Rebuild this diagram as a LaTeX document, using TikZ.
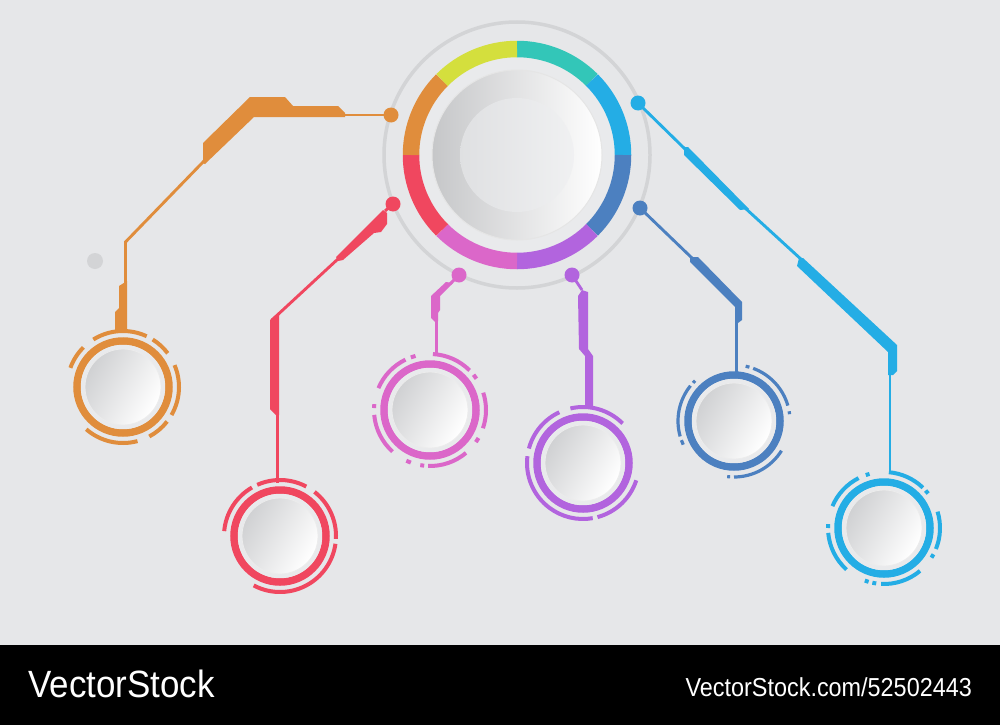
\documentclass[tikz,border=0pt]{standalone}
\usepackage{fontspec}
\setmainfont{Liberation Sans}
\usetikzlibrary{calc}
\definecolor{bg}{HTML}{E6E7E9}
\definecolor{greyring}{HTML}{D3D4D6}
\definecolor{gapc}{HTML}{E9EAEC}
\definecolor{diskL}{HTML}{D0D1D3}
\definecolor{cO}{HTML}{E08D3C}
\definecolor{cR}{HTML}{F0475F}
\definecolor{cP}{HTML}{DB67C9}
\definecolor{cU}{HTML}{B264DE}
\definecolor{cB}{HTML}{4C80C0}
\definecolor{cC}{HTML}{24ADE5}
\definecolor{cT}{HTML}{33C6B8}
\definecolor{cY}{HTML}{D4DF3D}
\newcommand\smallcirc[4]{% #1 centre, #2 colour, #3 arcs, #4 dash width
  \draw[#2, line width=7.5pt] (#1) circle[radius=46];
  \fill[gapc] (#1) circle[radius=42.2];
  \shade[left color=diskL, right color=white, shading angle=60] (#1) circle[radius=38];
  \draw[white!85!gray, line width=0.8pt] (#1) circle[radius=38];
  \foreach \a/\b in {#3}
    \draw[#2, line width=#4] (#1) ++({-1*(\a)}:56) arc[start angle={-1*(\a)}, end angle={-1*(\b)}, radius=56];
}
\tikzset{
  thinline/.style={line width=2.9pt, line cap=butt},
  dot/.style={circle, inner sep=0pt, minimum size=15pt, draw=none}
}
\begin{document}
\begin{tikzpicture}[x=1pt,y=-1pt]
\useasboundingbox (0,0) rectangle (1000,725);
\fill[bg] (0,0) rectangle (1000,645);
\fill[black] (0,645) rectangle (1000,725);

% centres
\coordinate (C) at (517,155);
\coordinate (O) at (123,387);
\coordinate (R) at (280,536);
\coordinate (P) at (430,410);
\coordinate (U) at (583,463);
\coordinate (B) at (734,421);
\coordinate (Cy) at (884,528);

% grey decorative dot
\fill[greyring] (95,261) circle[radius=8];

% ---------- connectors ----------
% orange
\coordinate (o1) at (345,115);
\coordinate (o2) at (204,161);
\coordinate (o3) at (125.5,242);
\coordinate (o4) at (125.5,286);
\fill[cO] (250,97) -- (285,97) -- (293,106) -- (338,106) -- (345,113) -- (345,117) -- (254,117) -- (205,164) -- (203,163) -- (203,143) -- cycle;
\draw[cO, thinline] (o2) -- (o3) -- (o4);
\fill[cO] (119,286) -- (127,281) -- (127,331) -- (115,331) -- (115,312) -- (119,308) -- cycle;
% red
\coordinate (r1) at (385,211);
\coordinate (r2) at (339,258);
\coordinate (r3) at (272,320);
\coordinate (r4) at (277.5,414);
\coordinate (r5) at (277.5,483);
\fill[cR] (383,210) -- (387,213) -- (387,224) -- (381,232) -- (374,233) -- (343,260) -- (338,261) -- (336,257) -- cycle;
\draw[cR, thinline] (r2) -- (r3);
\fill[cR] (270,320) -- (279,312) -- (279,415) -- (276,415) -- (270,409) -- cycle;
\draw[cR, thinline] (r4) -- (r5);
% pink
\coordinate (p1) at (450,284);
\coordinate (p2) at (436.5,321);
\coordinate (p3) at (436.5,354);
\fill[cP] (453,283) -- (440,296) -- (440,310) -- (438,313) -- (438,321) -- (436,323) -- (431,318) -- (431,296) -- (446,282) -- cycle;
\draw[cP, thinline] (p2) -- (p3);
% purple
\coordinate (u1) at (582,290);
\fill[cU] (578,296) -- (582,290) -- (588,292) -- (588,349) -- (593,356) -- (593,407) -- (585,407) -- (585,356) -- (579,349) -- cycle;
% blue
\coordinate (b1) at (693,259);
\coordinate (b2) at (736.5,322);
\coordinate (b3) at (736.5,372);
\fill[cB] (690,257) -- (698,257) -- (742,302) -- (742,320) -- (738,323) -- (735,323) -- (735,307) -- (690,262) -- cycle;
\draw[cB, thinline] (b2) -- (b3);
% cyan
\coordinate (c1) at (686,150);
\coordinate (c2) at (744,207);
\coordinate (c3) at (803,261);
\coordinate (c4) at (890,374);
\coordinate (c5) at (890,473);
\fill[cC] (684,147) -- (688,147) -- (749,209) -- (740,210) -- (684,155) -- cycle;
\draw[cC, thinline] (c2) -- (c3);
\fill[cC] (799,258) -- (803,258) -- (897,345) -- (897,371) -- (893,375) -- (888,375) -- (888,352) -- (797,266) -- cycle;
\draw[cC, thinline] (c4) -- (c5);

% ---------- central circle ----------
\draw[greyring, line width=3.5pt] (C) circle[radius=133];
\fill[gapc] (C) circle[radius=99];
\foreach \s/\c in {90/cT,45/cC,0/cB,-45/cU,-90/cP,-135/cR,180/cO,135/cY}
  \draw[\c, line width=16.5pt] (C) ++({-1*(\s)}:106) arc[start angle={-1*(\s)}, end angle={-1*(\s)+45}, radius=106];
\shade[left color=diskL!95!black, right color=white] (C) circle[radius=85];
\draw[white!80!gray, line width=1pt] (C) circle[radius=85];
\shade[left color=bg!97!black, right color=bg!60!white] (C) circle[radius=57];

% ---------- dots ----------
\node[dot, fill=cO] (dO) at (391,115) {};
\node[dot, fill=cR] (dR) at (393,204) {};
\node[dot, fill=cP] (dP) at (459,275) {};
\node[dot, fill=cU] (dU) at (572,275) {};
\node[dot, fill=cC] (dC) at (638,103) {};
\node[dot, fill=cB] (dB) at (640,208) {};
\draw[cO, thinline] (dO.center) -- (o1);
\draw[cR, thinline] (dR.center) -- (r1);
\draw[cP, thinline] (dP.center) -- (p1);
\draw[cU, thinline] (dU.center) -- (u1);
\draw[cC, thinline] (dC.center) -- (c1);
\draw[cB, thinline] (dB.center) -- (b1);

% ---------- small circles ----------
\smallcirc{O}{cO}{65/122, 37/58, -30/23, -62/-38, -131/-75, 135/160}{4pt}
\smallcirc{R}{cR}{62/114, 120/175, -3/52, -118/-8}{4pt}
\smallcirc{P}{cP}{45/87, 34/39, -19/18, -35/-30, -92/-50, -100/-96, -115/-110, 185/228, 174/178, 116/157, 105/110}{4pt}
\smallcirc{U}{cU}{45/103, 115/165, 173/280, -75/-18}{4pt}
\smallcirc{B}{cB}{16/70, 74/78, 7/10, -90/-32, -97/-94, 141/196, 200/205, 134/137}{3.2pt}
\smallcirc{Cy}{cC}{46/85, 38/42, 105/109, 117/157, 176/180, -22/17, -32/-28, -93/-50, -102/-98, -110/-106, 185/228}{4pt}

% ---------- footer ----------
\node[anchor=base west, text=white, inner sep=0pt, font=\fontsize{38}{42}\selectfont, xscale=0.92] (brand) at (28,697) {VectorStock};
\node[anchor=base east, text=white, inner sep=0pt, font=\fontsize{26}{30}\selectfont, xscale=0.9] (url) at (972,696) {VectorStock.com/52502443};
\end{tikzpicture}
\end{document}
